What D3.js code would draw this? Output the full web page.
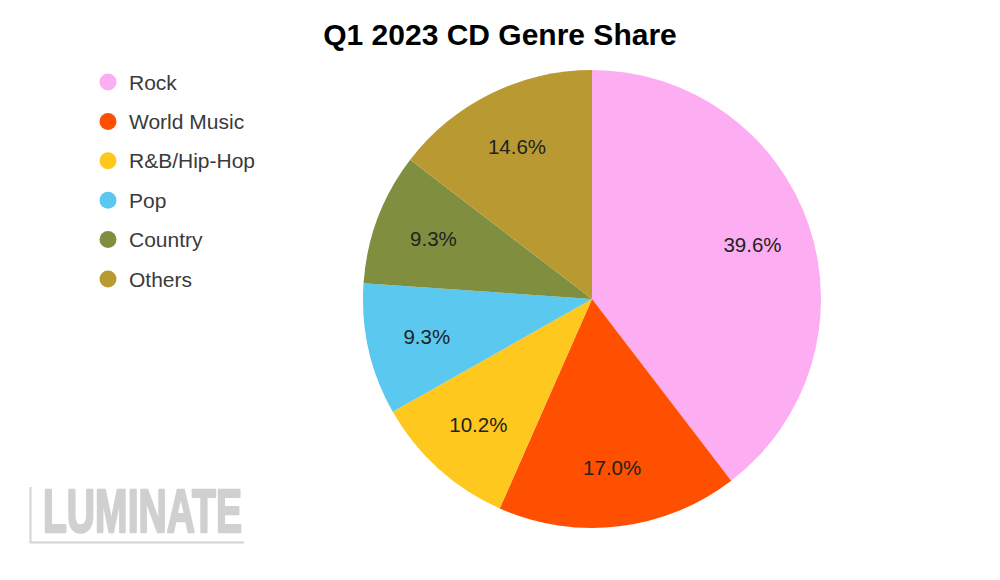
<!DOCTYPE html>
<html><head><meta charset="utf-8">
<script src="https://cdn.jsdelivr.net/npm/d3@7"></script>
<style>body{margin:0;background:#fff}svg{display:block}</style>
</head><body>
<svg id="chart" width="1000" height="580"></svg>
<script>
const categories = ["Rock", "World Music", "R&B/Hip-Hop", "Pop", "Country", "Others"];
const shares = [39.6, 17.0, 10.2, 9.3, 9.3, 14.6];
const colors = ["#fdaef2", "#ff4f00", "#ffc81e", "#5bc8ef", "#7f8e3f", "#b99a32"];
const title = "Q1 2023 CD Genre Share";

const svg = d3.select("#chart");
const cx = 592, cy = 299, r = 229;
const font = "Liberation Sans, Arial, sans-serif";

svg.append("text").attr("x", 500).attr("y", 45).attr("text-anchor", "middle")
  .attr("font-family", font).attr("font-weight", "bold")
  .attr("font-size", 30).attr("fill", "#000").text(title);

const data = categories.map((c, i) => ({cat: c, value: shares[i], color: colors[i]}));
const pie = d3.pie().value(d => d.value).sort(null);
const arc = d3.arc().innerRadius(0).outerRadius(r);
const labelArc = d3.arc().innerRadius(r * 0.74).outerRadius(r * 0.74);
const g = svg.append("g").attr("transform", `translate(${cx},${cy})`);
const arcs = pie(data);
g.selectAll("path").data(arcs).join("path").attr("d", arc).attr("fill", d => d.data.color);
g.selectAll("text").data(arcs).join("text")
  .attr("transform", d => `translate(${labelArc.centroid(d)})`)
  .attr("text-anchor", "middle").attr("dy", "0.36em")
  .attr("font-family", font).attr("font-size", 20.5)
  .attr("fill", "#222").text(d => d.data.value.toFixed(1) + "%");

const y = d3.scalePoint().domain(categories).range([82, 279]);
const leg = svg.append("g");
const rows = leg.selectAll("g").data(data).join("g").attr("transform", d => `translate(0,${y(d.cat)})`);
rows.append("circle").attr("cx", 108).attr("cy", 0).attr("r", 8.5).attr("fill", d => d.color);
rows.append("text").attr("x", 129).attr("dy", "0.36em")
  .attr("font-family", font).attr("font-size", 21)
  .attr("fill", "#3a3a3a").text(d => d.cat);

// Luminate watermark
const logo = svg.append("g");
logo.append("path").attr("d", "M30.5,487 V542.5 H244").attr("fill", "none").attr("stroke", "#d4d4d4").attr("stroke-width", 2);
logo.append("text").attr("x", 43).attr("y", 532)
  .attr("font-family", "Liberation Sans Narrow, Liberation Sans, Arial, sans-serif").attr("font-weight", "bold")
  .attr("font-size", 62).attr("textLength", 199).attr("lengthAdjust", "spacingAndGlyphs")
  .attr("fill", "#d0d0d0").attr("stroke", "#d0d0d0").attr("stroke-width", 2.5).attr("stroke-linejoin", "round")
  .text("LUMINATE");
</script>
</body></html>
